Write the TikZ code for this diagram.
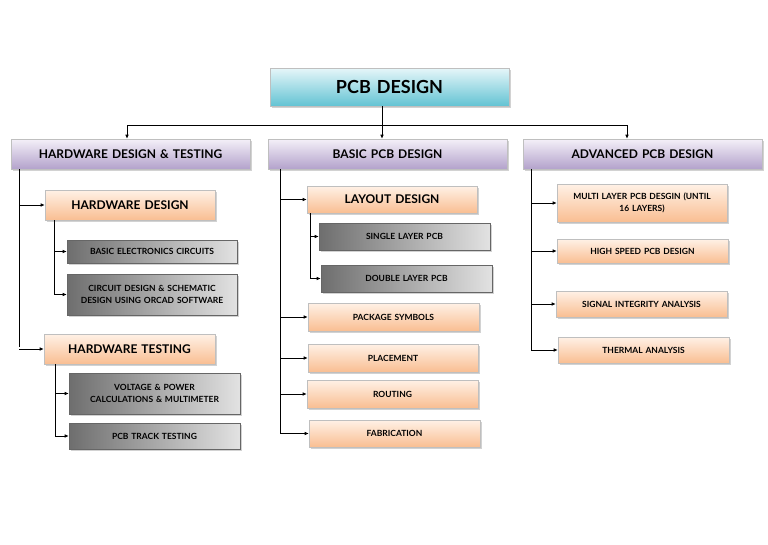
\documentclass[tikz,border=0pt]{standalone}
\usepackage{fontspec}
\setmainfont{Lato}
\usetikzlibrary{arrows.meta,shadows}
\newcommand\bx[7]{\node[#6,minimum width={(#4-#2)*1pt},minimum height={(#5-#3)*1pt},text width={(#4-#2-6)*1pt}] (#1) at ({(#2+#4)/2},{(#3+#5)/2}) {#7};}
\definecolor{cyA}{HTML}{E6F6F9}\definecolor{cyB}{HTML}{63C3D3}
\definecolor{puA}{HTML}{F4F0F8}\definecolor{puB}{HTML}{B3A2CB}
\definecolor{orA}{HTML}{FFF1E6}\definecolor{orB}{HTML}{F9BE92}
\definecolor{grA}{HTML}{E2E2E2}\definecolor{grB}{HTML}{6E6E6E}
\tikzset{
 base/.style={draw=white!75!black,line width=0.6pt,align=center,inner sep=1pt,drop shadow={shadow xshift=1.5pt,shadow yshift=-1.5pt,opacity=0.35}},
 topbox/.style={base,top color=cyA,bottom color=cyB,font=\fontsize{18}{20}\selectfont\bfseries},
 secbox/.style={base,top color=puA,bottom color=puB,font=\fontsize{12}{14}\selectfont\bfseries},
 midbox/.style={base,top color=orA,bottom color=orB,font=\fontsize{12}{14}\selectfont\bfseries},
 obox/.style={base,top color=orA,bottom color=orB,font=\fontsize{8.5}{12}\selectfont\bfseries},
 gbox/.style={base,draw=black!60,left color=grB,right color=grA,font=\fontsize{8.5}{12}\selectfont\bfseries},
 arr/.style={-{Latex[length=4pt,width=3.5pt]},line width=0.6pt},
 ln/.style={line width=0.6pt}
}
\begin{document}
\begin{tikzpicture}[x=1pt,y=-1pt]
\useasboundingbox[fill=white] (0,0) rectangle (768,544);
\bx{pcb}{270}{68}{509}{106}{topbox}{PCB DESIGN}
\bx{hdt}{11}{139}{250}{169}{secbox}{HARDWARE DESIGN \& TESTING}
\bx{bas}{268}{139}{507}{169}{secbox}{BASIC PCB DESIGN}
\bx{adv}{523}{139}{762}{169}{secbox}{ADVANCED PCB DESIGN}
\bx{hwd}{45}{190}{215}{220}{midbox}{HARDWARE DESIGN}
\bx{bec}{67}{240}{237}{263}{gbox}{BASIC ELECTRONICS CIRCUITS}
\bx{cir}{67}{274}{237}{315}{gbox}{CIRCUIT DESIGN \& SCHEMATIC\\DESIGN USING ORCAD SOFTWARE}
\bx{hwt}{44}{334}{215}{364}{midbox}{HARDWARE TESTING}
\bx{vol}{69}{373}{240}{414}{gbox}{VOLTAGE \& POWER\\CALCULATIONS \& MULTIMETER}
\bx{trk}{69}{423}{240}{449}{gbox}{PCB TRACK TESTING}
\bx{lay}{307}{186}{477}{213}{midbox}{LAYOUT DESIGN}
\bx{sgl}{319}{223}{490}{250}{gbox}{SINGLE LAYER PCB}
\bx{dbl}{321}{265}{492}{292}{gbox}{DOUBLE LAYER PCB}
\bx{pkg}{308}{303}{479}{331}{obox}{PACKAGE SYMBOLS}
\bx{plc}{308}{344}{478}{372}{obox}{PLACEMENT}
\bx{rte}{307}{380}{478}{408}{obox}{ROUTING}
\bx{fab}{309}{420}{480}{447}{obox}{FABRICATION}
\bx{mul}{557}{184}{727}{222}{obox}{MULTI LAYER PCB DESGIN (UNTIL\\16 LAYERS)}
\bx{hsp}{557}{239}{728}{263}{obox}{HIGH SPEED PCB DESIGN}
\bx{sig}{556}{291}{727}{317}{obox}{SIGNAL INTEGRITY ANALYSIS}
\bx{thm}{558}{337}{729}{363}{obox}{THERMAL ANALYSIS}
\draw[arr] (pcb.south -| 382,0) -- (382,0 |- bas.north);
\draw[ln] (127,125) -- (627,125);
\draw[arr] (127,125) -- (127,0 |- hdt.north);
\draw[arr] (627,125) -- (627,0 |- adv.north);
\draw[ln] (19,169) -- (19,347);
\draw[arr] (19,0 |- hwd.west) -- (hwd.west);
\draw[arr] (19,0 |- hwt.west) -- (hwt.west);
\draw[ln] (54,220) -- (54,295);
\draw[arr] (54,0 |- bec.west) -- (bec.west);
\draw[arr] (54,0 |- cir.west) -- (cir.west);
\draw[ln] (55,364) -- (55,436);
\draw[arr] (55,0 |- vol.west) -- (vol.west);
\draw[arr] (55,0 |- trk.west) -- (trk.west);
\draw[ln] (280,169) -- (280,434);
\foreach \n in {lay,pkg,plc,rte,fab} \draw[arr] (280,0 |- \n.west) -- (\n.west);
\draw[ln] (310,213) -- (310,278);
\draw[arr] (310,0 |- sgl.west) -- (sgl.west);
\draw[arr] (310,0 |- dbl.west) -- (dbl.west);
\draw[ln] (531,169) -- (531,350);
\foreach \n in {mul,hsp,sig,thm} \draw[arr] (531,0 |- \n.west) -- (\n.west);
\end{tikzpicture}
\end{document}
